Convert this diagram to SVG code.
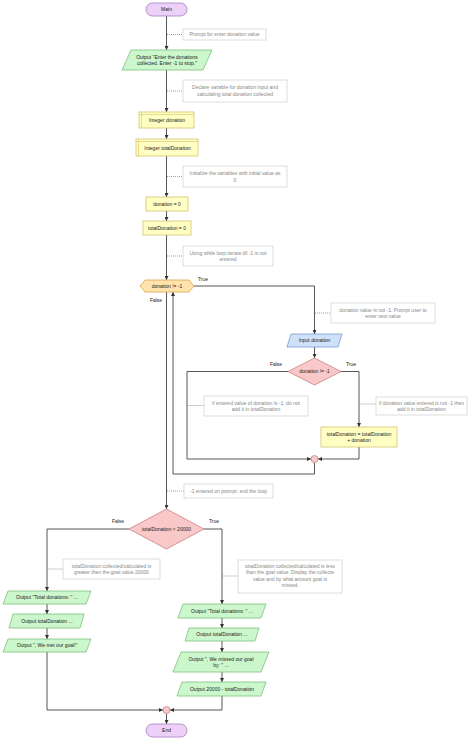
<svg xmlns="http://www.w3.org/2000/svg" width="474" height="740" viewBox="0 0 474 740">
<style>
text{font-family:"Liberation Sans",Arial,sans-serif;font-size:5px;fill:#222;text-anchor:middle}
.c text{fill:#888}
.c rect{fill:#fff;stroke:#d4d4d4;stroke-width:0.8}
.term{fill:#ecd0f7;stroke:#a77fc0;stroke-width:0.8}
.out{fill:#ccf7cc;stroke:#7fbf7f;stroke-width:0.8}
.proc{fill:#ffffc4;stroke:#d6c26a;stroke-width:0.8}
.inner{stroke:#d6c26a;stroke-width:0.6;fill:none}
.dec{fill:#f9c9c9;stroke:#cc8080;stroke-width:0.8}
.hex{fill:#ffe3ad;stroke:#d9a64a;stroke-width:0.8}
.inp{fill:#cfe0fb;stroke:#7a9ccf;stroke-width:0.8}
.merge{fill:#f9c9c9;stroke:#cc8080;stroke-width:0.8}
.ln{fill:none;stroke:#444;stroke-width:0.9}
.ar{marker-end:url(#ah)}
.dot{fill:none;stroke:#777;stroke-width:0.7;stroke-dasharray:1 1}
.lbl{fill:#222}
</style>
<defs>
<marker id="ah" markerWidth="4" markerHeight="4" refX="4" refY="2" orient="auto" markerUnits="userSpaceOnUse">
<path d="M0,0 L4,2 L0,4 z" fill="#333"/>
</marker>
</defs>
<rect width="474" height="740" fill="#fff"/>
<g id="connectors">
<path class="ln ar" d="M166.5,16V50"/>
<path class="ln ar" d="M166.5,70V112"/>
<path class="ln ar" d="M166.5,128V139"/>
<path class="ln ar" d="M166.5,156V197"/>
<path class="ln ar" d="M166.5,211V221"/>
<path class="ln ar" d="M166.5,235V280"/>
<path class="ln ar" d="M194,286H314.5V334"/>
<path class="ln ar" d="M314.5,347V358"/>
<path class="ln ar" d="M288,371.5H187V459H311"/>
<path class="ln ar" d="M341,371.5H359V427"/>
<path class="ln ar" d="M359,447V459H318"/>
<path class="ln ar" d="M314.5,462.5V474H173V292"/>
<path class="ln ar" d="M166.5,292V509"/>
<path class="ln ar" d="M129,529H47V591"/>
<path class="ln ar" d="M204,529H222V604"/>
<path class="ln ar" d="M47,604V614"/>
<path class="ln ar" d="M47,628V639"/>
<path class="ln ar" d="M47,652V710H163"/>
<path class="ln ar" d="M222,618V628"/>
<path class="ln ar" d="M222,641V652"/>
<path class="ln ar" d="M222,672V682"/>
<path class="ln ar" d="M222,696V710H170"/>
<path class="ln ar" d="M166.5,713.5V724"/>
<path class="dot" d="M167,34.5H183"/>
<path class="dot" d="M167,91H183"/>
<path class="dot" d="M167,176.5H183"/>
<path class="dot" d="M167,256H183"/>
<path class="dot" d="M315,313H331"/>
<path class="dot" d="M187.5,405.5H204"/>
<path class="dot" d="M359.5,404H376"/>
<path class="dot" d="M167,491H184"/>
<path class="dot" d="M47.5,569H63"/>
<path class="dot" d="M222.5,576H238"/>
<text class="lbl" x="203" y="281">True</text>
<text class="lbl" x="156" y="301.5">False</text>
<text class="lbl" x="276" y="366">False</text>
<text class="lbl" x="351" y="366">True</text>
<text class="lbl" x="118" y="523">False</text>
<text class="lbl" x="214" y="523">True</text>
</g>
<g id="main"><rect class="term" x="146" y="3" width="41" height="13" rx="6.5"/><text x="166.5" y="11.3">Main</text></g>
<g id="c1" class="c"><rect x="183" y="29" width="83" height="11"/><text x="224.5" y="36.3">Prompt for enter donation value</text></g>
<g id="out1"><polygon class="out" points="131,50 212,50 203,70 122,70"/><text x="167" y="58.5">Output "Enter the donations</text><text x="167" y="65">collected. Enter -1 to stop."</text></g>
<g id="c2" class="c"><rect x="183" y="80" width="104" height="22"/><text x="235" y="89">Declare variable for donation input and</text><text x="235" y="95.5">calculating total donation collected</text></g>
<g id="int1"><rect class="proc" x="139" y="112" width="55" height="16"/><path class="inner" d="M141.5,112V128M139,114.5H194"/><text x="167" y="122">Integer donation</text></g>
<g id="int2"><rect class="proc" x="136" y="139" width="62" height="17"/><path class="inner" d="M138.5,139V156M136,141.5H198"/><text x="167.5" y="149.5">Integer totalDonation</text></g>
<g id="c3" class="c"><rect x="183" y="166" width="104" height="21"/><text x="235" y="175">Initialize the variables with initial value as</text><text x="235" y="181.5">0</text></g>
<g id="as1"><rect class="proc" x="146" y="197" width="42" height="14"/><text x="167" y="205.8">donation = 0</text></g>
<g id="as2"><rect class="proc" x="143" y="221" width="48" height="14"/><text x="167" y="229.8">totalDonation = 0</text></g>
<g id="c4" class="c"><rect x="183" y="246" width="90" height="20"/><text x="228" y="254.5">Using while loop iterate till -1 is not</text><text x="228" y="261">entered</text></g>
<g id="loop"><polygon class="hex" points="145,280 189,280 194,286 189,292 145,292 140,286"/><text x="167" y="287.8">donation != -1</text></g>
<g id="c5" class="c"><rect x="331" y="303" width="104" height="20"/><text x="383" y="311.5">donation value is not -1. Prompt user to</text><text x="383" y="318">enter next value</text></g>
<g id="in1"><polygon class="inp" points="291,334 342,334 338,347 287,347"/><text x="314.5" y="342.3">Input donation</text></g>
<g id="dec1"><polygon class="dec" points="314.5,358 341,371.5 314.5,385 288,371.5"/><text x="314.5" y="373.3">donation != -1</text></g>
<g id="c6" class="c"><rect x="204" y="396" width="104" height="20"/><text x="256" y="404.5">if entered value of donation is -1, do not</text><text x="256" y="411">add it in totalDonation</text></g>
<g id="c7" class="c"><rect x="376" y="397" width="91" height="18"/><text x="421.5" y="404.5">if donation value entered is not -1 then</text><text x="421.5" y="411">add it in totalDonation</text></g>
<g id="add"><rect class="proc" x="321" y="427" width="76" height="20"/><text x="359" y="435.5">totalDonation = totalDonation</text><text x="359" y="442">+ donation</text></g>
<g id="merge1"><circle class="merge" cx="314.5" cy="459" r="3.5"/></g>
<g id="c8" class="c"><rect x="184" y="484" width="89" height="14"/><text x="228.5" y="492.8">-1 entered on prompt: end the loop</text></g>
<g id="dec2"><polygon class="dec" points="166.5,509 204,529 166.5,549 129,529"/><text x="166.5" y="530.8">totalDonation &lt; 20000</text></g>
<g id="c9" class="c"><rect x="63" y="559" width="97" height="20"/><text x="111.5" y="567.5">totalDonation collected/calculated is</text><text x="111.5" y="574">greater then the goal value 20000</text></g>
<g id="c10" class="c"><rect x="238" y="560" width="104" height="33"/><text x="290" y="567.5">totalDonation collected/calculated is less</text><text x="290" y="574">than the goal value. Display the collecte</text><text x="290" y="580.5">value and by what amount goal is</text><text x="290" y="587">missed.</text></g>
<g id="l1"><polygon class="out" points="8,591 91,591 86,604 3,604"/><text x="47" y="599.3">Output "Total donations: " ...</text></g>
<g id="l2"><polygon class="out" points="13,614 84,614 80,628 9,628"/><text x="47" y="622.8">Output totalDonation ...</text></g>
<g id="l3"><polygon class="out" points="8,639 91,639 86,652 3,652"/><text x="47" y="647.3">Output ", We met our goal!"</text></g>
<g id="r1"><polygon class="out" points="183,604 266,604 261,618 178,618"/><text x="222" y="612.8">Output "Total donations: " ...</text></g>
<g id="r2"><polygon class="out" points="189,628 259,628 255,641 185,641"/><text x="222" y="636.3">Output totalDonation ...</text></g>
<g id="r3"><polygon class="out" points="181,652 269,652 261,672 173,672"/><text x="221" y="660.5">Output ", We missed our goal</text><text x="221" y="667">by: " ...</text></g>
<g id="r4"><polygon class="out" points="182,682 266,682 261,696 177,696"/><text x="222" y="690.8">Output 20000 - totalDonation</text></g>
<g id="merge2"><circle class="merge" cx="166.5" cy="710" r="3.5"/></g>
<g id="end"><rect class="term" x="146" y="724" width="41" height="13" rx="6.5"/><text x="166.5" y="732.3">End</text></g>
</svg>
